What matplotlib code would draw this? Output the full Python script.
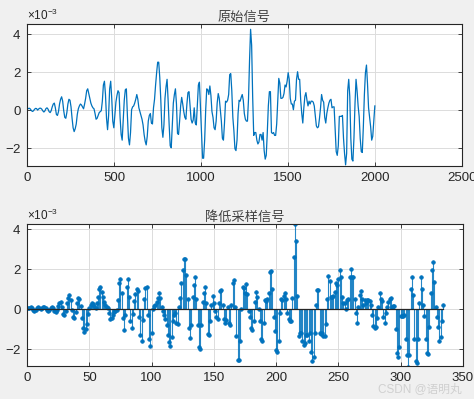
import numpy as np
import matplotlib
matplotlib.use("Agg")
import matplotlib.pyplot as plt
from matplotlib.ticker import ScalarFormatter

plt.rcParams['font.family'] = ['Liberation Sans', 'Noto Sans CJK SC', 'DejaVu Sans']
plt.rcParams['axes.unicode_minus'] = False
plt.rcParams['mathtext.fontset'] = 'custom'
plt.rcParams['mathtext.rm'] = 'Liberation Sans'
plt.rcParams['mathtext.it'] = 'Liberation Sans:italic'

# ---------------- data (values in units of 1e-3) ----------------
title_top = "原始信号"
title_bottom = "降低采样信号"
watermark = "CSDN @语明丸"
decim_factor = 6
scale = 1e-3

sig_part1 = [0.02, 0.06, 0.08, 0.04, -0.04, -0.09, -0.06, 0.02, 0.07, 0.06, -0.02, 0.04,
             0.08, 0.08, 0.03, -0.06, -0.12, -0.06, 0.06, 0.1, 0.03, -0.1, -0.15, -0.05,
             0.15, 0.3, 0.35, 0.1, -0.25, -0.3, -0.1, 0.3, 0.55, 0.68, 0.45, -0.05, -0.4,
             -0.45, -0.15, 0.3, 0.55, 0.5, 0.15, -0.45, -0.95, -1.15, -1.0, -0.75, -0.25, 0.05,
             0.2, 0.3, 0.25, 0.15, 0.05, 0.3, 0.6, 1.0, 1.1, 0.85, 0.6, 0.35, 0.2, 0.1, 0.05,
             -0.2, -0.5, -0.45, -0.3, -0.15, -0.1, -0.05]
sig_part2 = [0.45, 1.3, 1.5, 0.8, -0.45, -1.05, -0.3, 1.1, 1.5, 0.6, -0.6, -0.95, -0.25, 0.4,
             0.75, 1.0, 0.9, -0.4, -1.3, -1.6, -0.55, 0.5, 1.05, 1.1, -0.3, -1.5, -1.85, -1.2,
             0.0, 0.15, 0.2, 0.35, 0.55, 0.8, 0.55, 0.1, -0.1, -0.3, -0.5, -0.8, -1.3, -1.65,
             -1.85, -1.4, -0.6, -0.3, -0.2, -0.7, -0.75, 0.1, 0.55, 1.3, 1.95, 2.5, 2.5, 1.7,
             0.5, -0.95]
sig_part3 = [-1.45, -0.8, 0.6, 1.2, 1.6, 0.5, -0.8, -1.9, -2.0, -0.8, 0.35, 0.8, 1.1, 0.3,
             -1.25, -1.3, -0.6, 0.2, 0.65, 0.3, -0.1, -0.4, -0.5, 0.3, 0.9, 0.95, 0.2, -0.5,
             -0.7, -0.55, 0.1, -0.7, -0.8, 0.2, 1.3, 1.45, 0.1, -1.35, -2.55, -2.55, -1.6, 0.0,
             1.1, 1.05, 0.8, 1.25, 0.75, -0.1, -0.4, -0.95, -1.05, -0.6, 0.35, 0.85, 0.6, 0.0,
             -0.6, -1.5, -1.6, -0.7]
sig_part4 = [0.45, 0.4, 0.5, 0.8, 1.85, 1.9, 1.0, -0.4, -1.1, -2.05, -2.15, -1.6, -0.2, 0.5,
             0.45, 0.65, 0.8, 0.5, -0.2, -0.5, -0.6, -0.6, 0.55, 2.6, 4.23, 3.4, 0.65, -1.35,
             -1.2, -1.2, -1.6, -1.8, -1.7, -1.3, -1.3, -1.6, -1.2, -2.15, -2.6, -2.4, -1.2, 0.2,
             0.95, 0.95, -1.2, -1.25, -1.2, -1.35, -1.35, -0.75]
sig_part5 = [0.5, 1.65, 1.4, 0.6, 0.6, 0.65, 0.85, 1.3, 1.2, 1.5, 1.95, 1.6, 0.6, 0.3, 0.3,
             0.0, 0.45, 0.5, 1.6, 2.0, 1.6, 1.6, 0.5, -0.2, -0.7, 0.1, 0.7, 0.9, 0.5, 0.2,
             0.45, 0.3, 0.45, 0.45, 0.4, 0.2, -0.3, -0.85, -0.95, -0.9, -0.45, 0.1, 0.8, 0.5,
             0.4, -0.4, -0.7, -0.2, 0.1, 0.35, 0.5, 0.55, 0.1, 0.15, 0.15, -1.0, -2.2, -2.4,
             -1.9, -0.35]
sig_part6 = [-0.35, -0.35, -0.3, -1.5, -2.3, -2.9, -2.3, 1.0, 1.6, 0.7, -1.5, -2.6, -2.7,
             -1.5, 0.3, 1.6, 1.0, 0.2, -0.35, -1.5, -2.2, -2.25, -0.9, 0.8, 1.95, 2.35, 1.35,
             0.1, -0.4, -0.9, -1.6, -1.4, -0.6, 0.2]

x_ticks_top = [0, 500, 1000, 1500, 2000, 2500]
x_ticks_bottom = [0, 50, 100, 150, 200, 250, 300, 350]
y_ticks = [-2, 0, 2, 4]

down = np.array(sig_part1 + sig_part2 + sig_part3 + sig_part4 + sig_part5 + sig_part6) * scale
n = np.arange(1, len(down) + 1)
n_orig = (n - 1) * decim_factor + 1

# ---------------- style ----------------
W, H = 474, 399
fig = plt.figure(figsize=(W / 100, H / 100), dpi=100, facecolor='#f0f0f0')
blue = '#0072BD'
edge = '#262626'
grid_c = '#dcdcdc'


def axpos(l, t, r, b):
    return [l / W, 1 - b / H, (r - l) / W, (b - t) / H]


ax1 = fig.add_axes(axpos(27, 24, 462, 166))
ax2 = fig.add_axes(axpos(27, 224, 463, 366))

ax1.plot(n_orig, down, color=blue, lw=0.9)
ax1.set_xlim(0, 2500)
ax1.set_ylim(-2.96e-3, 4.51e-3)
ax1.set_xticks(x_ticks_top)

ml, sl, bl = ax2.stem(n, down, linefmt='-', markerfmt='o', basefmt='-')
plt.setp(sl, color=blue, linewidth=0.8, alpha=0.85)
plt.setp(ml, color=blue, markersize=2.6, markerfacecolor=blue, markeredgewidth=0.5)
plt.setp(bl, color=edge, linewidth=0.9)
ax2.set_xlim(0, 350)
ax2.set_ylim(-2.85e-3, 4.23e-3)
ax2.set_xticks(x_ticks_bottom)

for ax, title in ((ax1, title_top), (ax2, title_bottom)):
    ax.set_facecolor('white')
    ax.set_yticks([v * scale for v in y_ticks])
    fmt = ScalarFormatter(useMathText=True)
    fmt.set_powerlimits((-3, -3))
    ax.yaxis.set_major_formatter(fmt)
    ax.yaxis.get_offset_text().set_fontsize(8.5)
    ax.yaxis.get_offset_text().set_color('#555555')
    ax.grid(True, color=grid_c, linewidth=0.7)
    ax.set_axisbelow(True)
    for s in ax.spines.values():
        s.set_color(edge)
        s.set_linewidth(0.8)
    ax.tick_params(direction='in', length=3, width=0.6, colors=edge,
                   labelsize=9.5, top=True, right=True, pad=4)
    ax.set_title(title, fontsize=9.5, color='#404040', pad=2)

fig.text(462 / W, 1 - 389 / H, watermark, fontsize=8.5, color='#d0d0d0',
         ha='right', va='center', family=['Liberation Sans', 'Noto Sans CJK SC'])

fig.savefig('out.png', dpi=100, facecolor=fig.get_facecolor())
